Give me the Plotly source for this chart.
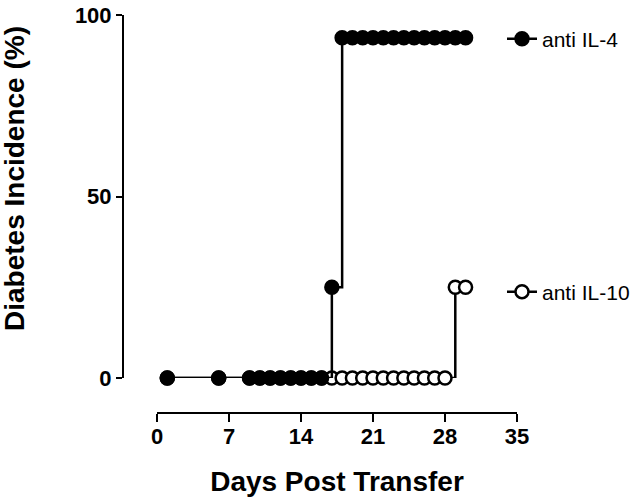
import plotly.graph_objects as go

# Data
il4_days = [1, 6, 9, 10, 11, 12, 13, 14, 15, 16, 17,
            18, 19, 20, 21, 22, 23, 24, 25, 26, 27, 28, 29, 30]
il4_inc = [0, 0, 0, 0, 0, 0, 0, 0, 0, 0, 25,
           93.75, 93.75, 93.75, 93.75, 93.75, 93.75, 93.75, 93.75, 93.75, 93.75, 93.75, 93.75, 93.75]
il10_days = [1, 6, 9, 10, 11, 12, 13, 14, 15, 16, 17, 18, 19, 20, 21, 22, 23, 24, 25, 26, 27, 28, 29, 30]
il10_inc = [0] * 22 + [25, 25]
x_ticks = [0, 7, 14, 21, 28, 35]
y_ticks = [0, 50, 100]

W, H = 635, 500
FONT = "Liberation Sans, Arial, sans-serif"

fig = go.Figure()
fig.add_trace(go.Scatter(
    x=il10_days, y=il10_inc, mode="lines+markers", name="anti IL-10",
    line=dict(color="black", width=2.5, shape="hv"),
    marker=dict(symbol="circle", size=13, color="white", line=dict(color="black", width=2.5)),
    cliponaxis=False, legend="legend2", showlegend=True))
fig.add_trace(go.Scatter(
    x=il4_days, y=il4_inc, mode="lines+markers", name="anti IL-4",
    line=dict(color="black", width=2.5, shape="hv"),
    marker=dict(symbol="circle", size=13, color="black", line=dict(color="black", width=2.5)),
    cliponaxis=False, legend="legend", showlegend=True))

fig.update_layout(
    width=W, height=H,
    showlegend=True,
    margin=dict(l=0, r=0, t=0, b=0, autoexpand=False),
    paper_bgcolor="white", plot_bgcolor="white",
    font=dict(family=FONT, color="black"),
    xaxis=dict(
        domain=[157 / W, 517 / W], range=[0, 35], anchor="free", position=(H - 413) / H,
        automargin=False,
        tickvals=x_ticks, ticktext=[str(v) for v in x_ticks],
        showgrid=False, zeroline=False, showline=True, linecolor="black", linewidth=2,
        ticks="outside", ticklen=8, tickwidth=2, tickcolor="black", ticklabelstandoff=-4,
        tickfont=dict(family=FONT, size=22, color="black", weight="bold"),
        title=dict(text="<b>Days Post Transfer</b>", font=dict(family=FONT, size=28, color="black"), standoff=22),
    ),
    yaxis=dict(
        domain=[(H - 378) / H, (H - 15) / H], range=[0, 100], anchor="free", position=123 / W,
        automargin=False,
        tickvals=y_ticks, ticktext=[str(v) for v in y_ticks],
        showgrid=False, zeroline=False, showline=True, linecolor="black", linewidth=2,
        ticks="outside", ticklen=6, tickwidth=2, tickcolor="black",
        tickfont=dict(family=FONT, size=22, color="black", weight="bold"),
    ),
    legend=dict(x=502 / W, y=(H - 39) / H, xanchor="left", yanchor="middle",
                font=dict(family=FONT, size=21, color="black"), bgcolor="rgba(0,0,0,0)"),
    legend2=dict(x=502 / W, y=(H - 292) / H, xanchor="left", yanchor="middle",
                 font=dict(family=FONT, size=21, color="black"), bgcolor="rgba(0,0,0,0)"),
    annotations=[dict(
        text="<b>Diabetes Incidence (%)</b>", textangle=-90,
        x=14 / W, y=(H - 179) / H, xref="paper", yref="paper",
        xanchor="center", yanchor="middle", showarrow=False,
        font=dict(family=FONT, size=28, color="black"))],
)

fig.write_html("out.html")
